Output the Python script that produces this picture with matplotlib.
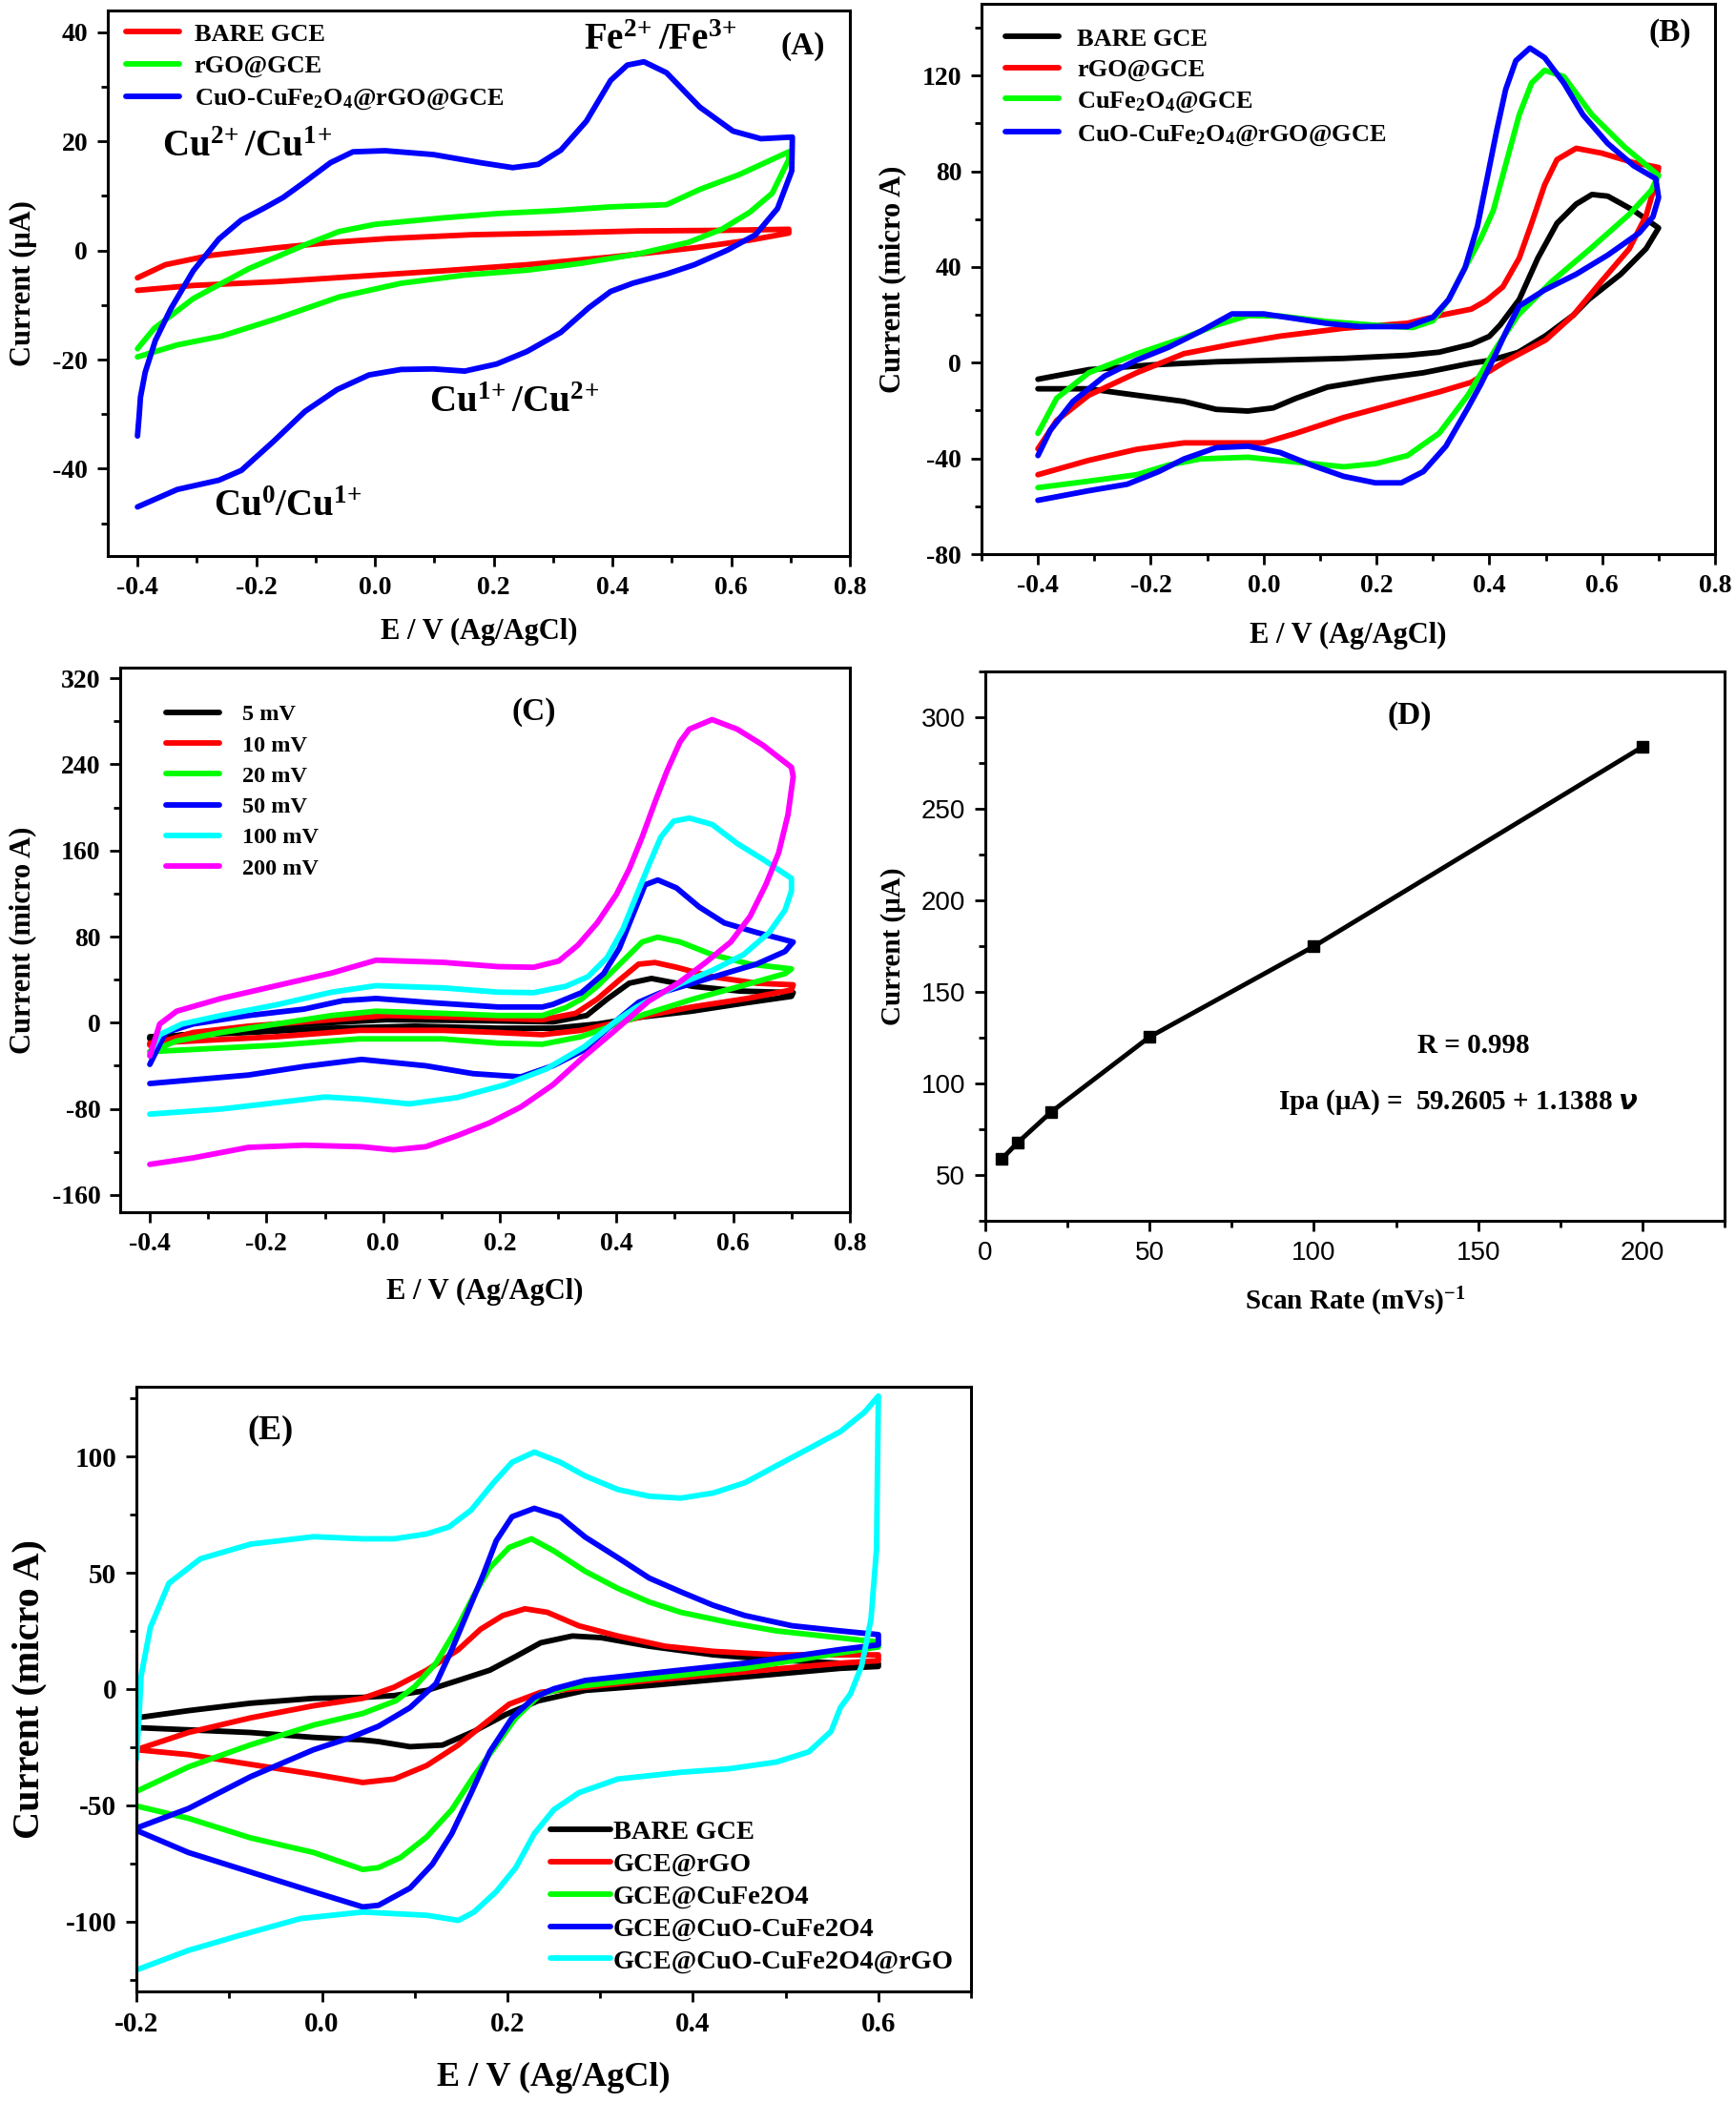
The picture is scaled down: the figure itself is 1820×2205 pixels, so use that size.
import matplotlib
matplotlib.use("Agg")
import matplotlib.pyplot as plt
from matplotlib.ticker import MultipleLocator, FormatStrFormatter
import numpy as np

plt.rcParams['font.family'] = ['Liberation Serif', 'DejaVu Serif']
plt.rcParams['font.weight'] = 'bold'
plt.rcParams['axes.labelweight'] = 'bold'
plt.rcParams['mathtext.default'] = 'regular'
plt.rcParams['axes.unicode_minus'] = False

# ---- panel A: CV curves (E in V, I in uA), forward scan then reverse scan
A_BARE = np.array([
    (-0.4, -5.0), (-0.353, -2.6), (-0.278, -0.9), (-0.166, 0.5), (-0.072, 1.5), (0.022, 2.2),
    (0.163, 2.9), (0.303, 3.2), (0.444, 3.6), (0.584, 3.7), (0.697, 3.9),
    (0.697, 3.2), (0.631, 1.9), (0.538, 0.5), (0.397, -1.2), (0.256, -2.6), (0.116, -3.7),
    (-0.025, -4.7), (-0.166, -5.7), (-0.306, -6.4), (-0.4, -7.3)])
A_RGO = np.array([
    (-0.4, -18.0), (-0.372, -14.3), (-0.306, -8.8), (-0.212, -3.3), (-0.119, 1.0), (-0.06, 3.5),
    (0.0, 4.8), (0.116, 6.0), (0.209, 6.8), (0.303, 7.3), (0.397, 8.0), (0.491, 8.4),
    (0.547, 11.2), (0.613, 13.9), (0.697, 18.1),
    (0.697, 16.7), (0.669, 10.5), (0.631, 7.0), (0.584, 3.9), (0.528, 1.5), (0.444, -0.6),
    (0.35, -2.3), (0.256, -3.6), (0.151, -4.5), (0.044, -6.0), (-0.06, -8.5), (-0.166, -12.5),
    (-0.259, -15.7), (-0.333, -17.3), (-0.4, -19.5)])
A_CUO = np.array([
    (-0.4, -34.0), (-0.397, -30.0), (-0.395, -26.9), (-0.387, -22.3), (-0.37, -16.5),
    (-0.344, -10.7), (-0.306, -3.7), (-0.263, 2.1), (-0.225, 5.6), (-0.188, 7.7), (-0.155, 9.7),
    (-0.118, 12.6), (-0.075, 16.1), (-0.037, 18.1), (0.017, 18.3), (0.098, 17.6), (0.178, 16.1),
    (0.232, 15.2), (0.275, 15.8), (0.313, 18.4), (0.356, 23.7), (0.397, 31.2), (0.425, 34.0),
    (0.453, 34.6), (0.491, 32.6), (0.547, 26.3), (0.603, 21.9), (0.65, 20.5), (0.703, 20.8),
    (0.702, 14.6), (0.678, 7.7), (0.641, 2.9), (0.594, 0.1), (0.538, -2.6), (0.491, -4.3),
    (0.434, -6.0), (0.397, -7.5), (0.36, -10.5), (0.313, -15.0), (0.256, -18.5), (0.205, -20.8),
    (0.151, -22.1), (0.098, -21.7), (0.044, -21.8), (-0.01, -22.8), (-0.064, -25.5),
    (-0.118, -29.5), (-0.171, -35.0), (-0.225, -40.3), (-0.263, -42.1), (-0.333, -43.8),
    (-0.4, -47.0)])
A_LABELS = ['BARE GCE', 'rGO@GCE', 'CuO-CuFe$_2$O$_4$@rGO@GCE']

# ---- panel B
B_BARE = np.array([
    (-0.4, -6.9), (-0.31, -2.9), (-0.197, -0.9), (-0.084, 0.4), (0.029, 1.1), (0.142, 1.8),
    (0.255, 3.1), (0.311, 4.4), (0.368, 7.7), (0.4, 11.0), (0.419, 15.7), (0.453, 26.4),
    (0.486, 43.7), (0.52, 58.3), (0.554, 66.3), (0.582, 70.3), (0.61, 69.6), (0.656, 63.6),
    (0.7, 56.3),
    (0.678, 47.7), (0.633, 37.0), (0.576, 26.4), (0.549, 19.9), (0.5, 11.3), (0.451, 4.3),
    (0.402, 1.0), (0.368, -0.2), (0.283, -4.2), (0.198, -6.9), (0.113, -10.2), (0.057, -14.9),
    (0.017, -18.9), (-0.028, -20.2), (-0.084, -19.5), (-0.141, -16.2), (-0.225, -13.6),
    (-0.31, -10.9), (-0.4, -10.9)])
B_RGO = np.array([
    (-0.4, -36.0), (-0.367, -24.2), (-0.31, -13.6), (-0.225, -4.2), (-0.141, 3.8), (-0.056, 7.7),
    (0.029, 11.1), (0.142, 14.4), (0.255, 16.5), (0.311, 19.7), (0.368, 22.4), (0.395, 26.0),
    (0.424, 31.7), (0.453, 43.7), (0.475, 58.3), (0.498, 74.3), (0.52, 84.9), (0.554, 89.6),
    (0.599, 87.6), (0.656, 83.6), (0.7, 81.6),
    (0.697, 77.1), (0.678, 61.5), (0.648, 47.6), (0.598, 33.8), (0.549, 19.9), (0.5, 9.5),
    (0.431, 0.9), (0.368, -8.2), (0.311, -12.2), (0.227, -17.5), (0.142, -22.9), (0.057, -29.5),
    (0.0, -33.5), (-0.141, -33.5), (-0.225, -36.2), (-0.31, -40.8), (-0.4, -46.8)])
B_CUFE = np.array([
    (-0.4, -29.5), (-0.367, -14.9), (-0.31, -4.2), (-0.225, 3.7), (-0.141, 10.4), (-0.084, 15.7),
    (-0.028, 19.7), (0.029, 19.5), (0.113, 17.2), (0.2, 15.6), (0.264, 14.7), (0.3, 17.5),
    (0.328, 26.4), (0.357, 39.7), (0.385, 52.0), (0.407, 63.6), (0.43, 83.6), (0.453, 103.6),
    (0.475, 116.9), (0.498, 122.2), (0.532, 119.6), (0.582, 103.6), (0.639, 90.3), (0.7, 78.3),
    (0.687, 72.0), (0.648, 62.0), (0.579, 47.6), (0.51, 33.8), (0.451, 19.9), (0.412, 6.1),
    (0.362, -13.6), (0.311, -29.5), (0.255, -38.8), (0.198, -42.2), (0.142, -43.5),
    (0.057, -41.5), (-0.028, -39.5), (-0.112, -40.2), (-0.169, -42.8), (-0.225, -46.8),
    (-0.31, -49.5), (-0.4, -52.2)])
B_CUO = np.array([
    (-0.4, -38.8), (-0.378, -28.2), (-0.338, -16.2), (-0.282, -5.6), (-0.225, 1.1),
    (-0.169, 6.4), (-0.112, 13.1), (-0.056, 20.4), (0.0, 20.4), (0.057, 18.4), (0.113, 16.4),
    (0.17, 15.1), (0.255, 15.1), (0.3, 19.0), (0.328, 26.4), (0.357, 39.7), (0.379, 57.0),
    (0.396, 76.9), (0.413, 96.9), (0.429, 114.2), (0.447, 126.2), (0.472, 131.5), (0.498, 127.5),
    (0.532, 116.9), (0.566, 103.6), (0.61, 91.6), (0.656, 82.3), (0.695, 76.9),
    (0.7, 69.0), (0.69, 61.0), (0.666, 54.3), (0.61, 45.0), (0.554, 37.0), (0.498, 30.4),
    (0.453, 23.7), (0.43, 13.1), (0.41, 3.0), (0.385, -9.0), (0.362, -18.9), (0.323, -34.9),
    (0.283, -45.5), (0.244, -50.2), (0.198, -50.2), (0.142, -47.5), (0.085, -42.8),
    (0.029, -37.5), (-0.028, -34.9), (-0.084, -35.5), (-0.141, -40.2), (-0.186, -45.5),
    (-0.242, -50.8), (-0.31, -53.5), (-0.4, -57.5)])
B_LABELS = ['BARE GCE', 'rGO@GCE', 'CuFe$_2$O$_4$@GCE', 'CuO-CuFe$_2$O$_4$@rGO@GCE']

# ---- panel C: scan rates
C_5 = np.array([
    (-0.4, -15.0), (-0.278, -7.1), (-0.136, -1.2), (0.007, 2.8), (0.149, 2.0), (0.292, 0.8),
    (0.349, 6.7), (0.384, 21.9), (0.422, 36.7), (0.46, 41.1), (0.531, 33.8), (0.612, 29.4),
    (0.703, 28.0),
    (0.7, 24.5), (0.624, 18.6), (0.529, 10.7), (0.434, 4.7), (0.368, -1.2), (0.292, -5.1),
    (0.197, -5.1), (0.054, -3.2), (-0.088, -5.1), (-0.231, -9.1), (-0.4, -13.0)])
C_10 = np.array([
    (-0.4, -20.9), (-0.326, -9.1), (-0.231, -3.2), (-0.088, 2.8), (0.007, 6.7), (0.149, 4.7),
    (0.273, 2.8), (0.33, 8.7), (0.367, 21.9), (0.405, 39.6), (0.438, 54.4), (0.466, 55.9),
    (0.503, 51.5), (0.564, 42.7), (0.64, 36.7), (0.703, 35.2),
    (0.7, 30.4), (0.624, 22.5), (0.529, 14.6), (0.453, 6.7), (0.406, 0.8), (0.339, -7.1),
    (0.273, -11.1), (0.197, -9.1), (0.102, -7.1), (-0.041, -7.1), (-0.183, -13.0), (-0.4, -19.0)])
C_20 = np.array([
    (-0.4, -26.9), (-0.354, -17.0), (-0.278, -9.1), (-0.183, -1.2), (-0.088, 6.7), (-0.012, 10.7),
    (0.102, 8.7), (0.197, 6.7), (0.273, 6.7), (0.313, 14.0), (0.34, 22.0), (0.367, 33.8),
    (0.411, 57.3), (0.444, 75.0), (0.471, 79.5), (0.509, 75.0), (0.564, 63.3), (0.629, 54.4),
    (0.7, 50.0),
    (0.689, 45.6), (0.612, 33.8), (0.531, 21.9), (0.449, 8.0), (0.387, -4.0), (0.339, -13.0),
    (0.273, -20.0), (0.197, -19.0), (0.102, -15.0), (-0.041, -15.0), (-0.183, -20.9),
    (-0.4, -26.9)])
C_50 = np.array([
    (-0.4, -38.7), (-0.373, -9.1), (-0.326, -1.2), (-0.231, 6.7), (-0.136, 12.6), (-0.069, 20.5),
    (-0.012, 22.5), (0.083, 18.6), (0.197, 14.6), (0.273, 14.6), (0.291, 17.0), (0.34, 27.9),
    (0.378, 45.6), (0.405, 69.2), (0.427, 98.7), (0.449, 128.1), (0.471, 132.6), (0.503, 125.2),
    (0.542, 107.5), (0.585, 92.7), (0.64, 83.9), (0.703, 75.0),
    (0.689, 66.2), (0.64, 54.4), (0.585, 45.6), (0.531, 36.7), (0.476, 27.9), (0.438, 19.0),
    (0.4, 2.0), (0.345, -25.2), (0.291, -40.0), (0.236, -50.3), (0.154, -47.3), (0.073, -40.0),
    (-0.037, -34.1), (-0.136, -40.7), (-0.231, -48.6), (-0.4, -56.5)])
C_100 = np.array([
    (-0.4, -28.8), (-0.383, -11.1), (-0.345, -1.2), (-0.278, 6.7), (-0.183, 16.6), (-0.088, 28.4),
    (-0.012, 34.4), (0.102, 32.4), (0.197, 28.4), (0.258, 27.9), (0.313, 33.8), (0.351, 42.7),
    (0.384, 60.4), (0.411, 86.9), (0.433, 116.4), (0.455, 145.8), (0.476, 172.4), (0.498, 187.2),
    (0.525, 190.1), (0.564, 184.2), (0.607, 166.5), (0.651, 151.8), (0.7, 134.1),
    (0.7, 122.3), (0.689, 104.6), (0.662, 83.9), (0.618, 63.3), (0.564, 48.5), (0.509, 36.0),
    (0.466, 24.0), (0.433, 14.0), (0.4, 2.0), (0.345, -22.3), (0.28, -42.9), (0.209, -57.7),
    (0.127, -69.5), (0.045, -75.4), (-0.037, -71.0), (-0.1, -69.0), (-0.183, -74.3),
    (-0.278, -80.2), (-0.4, -84.9)])
C_200 = np.array([
    (-0.4, -30.8), (-0.383, -1.2), (-0.354, 10.7), (-0.278, 22.5), (-0.183, 34.4), (-0.088, 46.2),
    (-0.012, 58.1), (0.102, 56.1), (0.197, 52.1), (0.258, 51.5), (0.301, 57.3), (0.334, 72.1),
    (0.367, 92.7), (0.4, 119.3), (0.422, 142.9), (0.444, 172.4), (0.466, 204.9), (0.487, 234.3),
    (0.509, 260.9), (0.525, 272.7), (0.564, 281.6), (0.607, 272.7), (0.651, 257.9), (0.7, 237.3),
    (0.703, 228.5), (0.694, 193.1), (0.678, 157.7), (0.656, 128.1), (0.629, 98.7), (0.596, 75.0),
    (0.553, 56.0), (0.509, 38.0), (0.455, 20.0), (0.4, -6.0), (0.345, -31.2), (0.291, -57.7),
    (0.236, -78.3), (0.182, -93.1), (0.127, -104.9), (0.073, -115.2), (0.018, -118.1),
    (-0.037, -115.2), (-0.136, -113.8), (-0.231, -115.8), (-0.326, -125.6), (-0.4, -131.6)])
C_LABELS = ['5 mV', '10 mV', '20 mV', '50 mV', '100 mV', '200 mV']

# ---- panel D: anodic peak current vs scan rate
D_RATE = [5, 10, 20, 50, 100, 200]
D_IPA = [58.8, 68.0, 84.4, 125.5, 175.0, 284.0]

# ---- panel E
E_BARE = np.array([
    (-0.2, -12.4), (-0.144, -9.3), (-0.077, -6.1), (-0.009, -4.0), (0.044, -3.6), (0.078, -2.8),
    (0.113, -0.6), (0.147, 3.7), (0.181, 8.1), (0.209, 14.0), (0.236, 19.9), (0.27, 22.8),
    (0.301, 22.1), (0.353, 18.4), (0.422, 14.7), (0.49, 12.5), (0.559, 11.1), (0.6, 11.0),
    (0.6, 9.7), (0.559, 8.9), (0.456, 5.2), (0.353, 1.5), (0.284, -0.6), (0.233, -5.1),
    (0.198, -11.0), (0.164, -18.2), (0.13, -24.1), (0.095, -24.8), (0.061, -22.6),
    (0.044, -21.9), (-0.009, -20.8), (-0.077, -18.7), (-0.2, -16.6)])
E_RGO = np.array([
    (-0.2, -26.1), (-0.144, -18.7), (-0.077, -12.4), (-0.009, -7.2), (0.044, -4.0), (0.078, 0.8),
    (0.113, 8.1), (0.147, 16.9), (0.171, 25.7), (0.195, 31.6), (0.219, 34.5), (0.243, 33.0),
    (0.277, 27.2), (0.319, 22.8), (0.37, 18.4), (0.422, 16.2), (0.49, 14.7), (0.6, 14.7),
    (0.6, 12.2), (0.559, 11.1), (0.456, 7.4), (0.353, 3.7), (0.284, 0.8), (0.236, -1.4),
    (0.202, -6.5), (0.174, -15.3), (0.147, -24.1), (0.113, -32.9), (0.078, -38.7),
    (0.044, -40.2), (-0.009, -36.6), (-0.077, -32.4), (-0.144, -28.2), (-0.2, -26.1)])
E_CUFE = np.array([
    (-0.2, -44.0), (-0.144, -33.5), (-0.077, -24.0), (-0.009, -15.5), (0.044, -10.5),
    (0.08, -5.0), (0.1, 1.0), (0.123, 11.1), (0.147, 27.2), (0.164, 40.4), (0.181, 52.1),
    (0.202, 60.9), (0.226, 64.6), (0.25, 59.4), (0.284, 50.6), (0.319, 43.3), (0.353, 37.4),
    (0.387, 33.0), (0.439, 28.6), (0.49, 25.0), (0.559, 22.0), (0.6, 20.2),
    (0.6, 18.1), (0.559, 15.5), (0.456, 8.9), (0.353, 4.5), (0.267, 0.8), (0.236, -2.1),
    (0.209, -12.4), (0.188, -24.1), (0.164, -37.3), (0.14, -51.9), (0.113, -63.6),
    (0.085, -72.4), (0.061, -76.8), (0.044, -77.6), (-0.009, -70.3), (-0.077, -64.0),
    (-0.144, -55.6), (-0.2, -50.3)])
E_CUO = np.array([
    (-0.2, -59.8), (-0.144, -51.4), (-0.077, -37.7), (-0.009, -26.1), (0.03, -21.0),
    (0.061, -16.0), (0.095, -8.0), (0.123, 2.3), (0.14, 16.9), (0.157, 33.0), (0.174, 49.2),
    (0.188, 63.8), (0.205, 74.1), (0.229, 77.7), (0.257, 74.1), (0.284, 65.3), (0.319, 56.5),
    (0.353, 47.7), (0.387, 41.8), (0.422, 36.0), (0.456, 31.6), (0.507, 27.2), (0.559, 25.0),
    (0.6, 23.4),
    (0.6, 19.0), (0.559, 17.0), (0.456, 11.1), (0.353, 6.7), (0.284, 3.7), (0.25, 0.1),
    (0.229, -3.6), (0.205, -12.4), (0.181, -27.0), (0.161, -44.6), (0.14, -62.2),
    (0.119, -75.4), (0.095, -85.6), (0.061, -93.0), (0.044, -93.7), (-0.009, -87.2),
    (-0.077, -78.7), (-0.144, -70.3), (-0.2, -60.8)])
E_CUO_RGO = np.array([
    (-0.2, -30.3), (-0.197, -10.0), (-0.195, 5.5), (-0.185, 26.5), (-0.165, 45.5),
    (-0.131, 56.0), (-0.077, 62.3), (-0.009, 65.5), (0.044, 64.6), (0.078, 64.6), (0.113, 66.7),
    (0.137, 69.7), (0.161, 77.0), (0.185, 88.7), (0.205, 97.5), (0.229, 101.9), (0.257, 97.5),
    (0.284, 91.6), (0.319, 85.8), (0.353, 82.9), (0.387, 82.1), (0.422, 84.3), (0.456, 88.7),
    (0.49, 96.0), (0.525, 103.4), (0.559, 110.7), (0.585, 119.0), (0.6, 126.0),
    (0.598, 60.0), (0.592, 30.0), (0.582, 10.0), (0.57, -2.0), (0.559, -8.0), (0.549, -18.2),
    (0.525, -27.0), (0.49, -31.4), (0.439, -34.3), (0.387, -35.8), (0.319, -38.7),
    (0.277, -44.6), (0.25, -51.9), (0.229, -62.2), (0.209, -76.8), (0.188, -87.1),
    (0.164, -95.9), (0.147, -99.5), (0.113, -97.3), (0.044, -95.9), (-0.023, -98.7),
    (-0.09, -106.1), (-0.144, -112.4), (-0.2, -120.8)])
E_LABELS = ['BARE GCE', 'GCE@rGO', 'GCE@CuFe2O4', 'GCE@CuO-CuFe2O4', 'GCE@CuO-CuFe2O4@rGO']

RED, GREEN, BLUE, CYAN, MAGENTA = '#ff0000', '#00ff00', '#0000ff', '#00ffff', '#ff00ff'
LW = 4.2


def style(ax, xmaj, xmin, ymaj, ymin, fs=20, xfmt='%.1f', yfmt='%d'):
    for s in ax.spines.values():
        s.set_linewidth(2.2)
    ax.xaxis.set_major_locator(MultipleLocator(xmaj))
    ax.xaxis.set_minor_locator(MultipleLocator(xmin))
    ax.yaxis.set_major_locator(MultipleLocator(ymaj))
    ax.yaxis.set_minor_locator(MultipleLocator(ymin))
    ax.xaxis.set_major_formatter(FormatStrFormatter(xfmt))
    ax.yaxis.set_major_formatter(FormatStrFormatter(yfmt))
    ax.tick_params(which='major', direction='out', length=8, width=2, labelsize=fs, pad=7)
    ax.tick_params(which='minor', direction='out', length=5, width=2)
    ax.tick_params(top=False, right=False, which='both')
    for lab in ax.get_xticklabels() + ax.get_yticklabels():
        lab.set_fontweight('bold')


def cv(ax, arr, color, label):
    ax.plot(arr[:, 0], arr[:, 1], color=color, lw=LW, label=label,
            solid_joinstyle='round', solid_capstyle='round')


fig = plt.figure(figsize=(18.2, 22.05), dpi=100)

# ---------------- (A)
ax = fig.add_axes([0.0621, 0.7356, 0.4275, 0.2594])
for arr, c, lab in zip([A_BARE, A_RGO, A_CUO], [RED, GREEN, BLUE], A_LABELS):
    cv(ax, arr, c, lab)
ax.set_xlim(-0.45, 0.8)
ax.set_ylim(-56, 44)
style(ax, 0.2, 0.1, 20, 10)
ax.set_xlabel('E / V (Ag/AgCl)', fontsize=22, labelpad=14)
ax.set_ylabel('Current (μA)', fontsize=22, labelpad=12)
ax.legend(loc='upper left', frameon=False, fontsize=19, handlelength=2.1, handletextpad=0.6,
          labelspacing=0.38, borderaxespad=0.1, bbox_to_anchor=(0.008, 1.0))
ax.text(0.48, 38.5, 'Fe$^{2\\!+}$/Fe$^{3\\!+}$', fontsize=28, ha='center', va='center')
ax.text(0.72, 37.5, '(A)', fontsize=24, ha='center', va='center')
ax.text(-0.215, 19.0, 'Cu$^{2\\!+}$/Cu$^{1\\!+}$', fontsize=28, ha='center', va='center')
ax.text(0.235, -28.0, 'Cu$^{1\\!+}$/Cu$^{2\\!+}$', fontsize=28, ha='center', va='center')
ax.text(-0.147, -47.0, 'Cu$^{0}$/Cu$^{1\\!+}$', fontsize=28, ha='center', va='center')

# ---------------- (B)
ax = fig.add_axes([0.5654, 0.7365, 0.4225, 0.2617])
for arr, c, lab in zip([B_BARE, B_RGO, B_CUFE, B_CUO], ['black', RED, GREEN, BLUE], B_LABELS):
    cv(ax, arr, c, lab)
ax.set_xlim(-0.5, 0.8)
ax.set_ylim(-80, 150)
style(ax, 0.2, 0.1, 40, 20)
ax.set_xlabel('E / V (Ag/AgCl)', fontsize=22, labelpad=18)
ax.set_ylabel('Current (micro A)', fontsize=22, labelpad=12)
ax.legend(loc='upper left', frameon=False, fontsize=19, handlelength=2.1, handletextpad=0.75,
          labelspacing=0.34, borderaxespad=0.55)
ax.text(0.72, 138, '(B)', fontsize=24, ha='center', va='center')

# ---------------- (C)
ax = fig.add_axes([0.0695, 0.4236, 0.4200, 0.2590])
for arr, c, lab in zip([C_5, C_10, C_20, C_50, C_100, C_200],
                       ['black', RED, GREEN, BLUE, CYAN, MAGENTA], C_LABELS):
    cv(ax, arr, c, lab)
ax.set_xlim(-0.45, 0.8)
ax.set_ylim(-176, 330)
style(ax, 0.2, 0.1, 80, 40)
ax.set_xlabel('E / V (Ag/AgCl)', fontsize=22, labelpad=17)
ax.set_ylabel('Current (micro A)', fontsize=22, labelpad=12)
ax.legend(loc='upper left', frameon=False, fontsize=17.5, handlelength=2.3, handletextpad=1.0,
          labelspacing=0.42, borderaxespad=0.6, bbox_to_anchor=(0.03, 0.975))
ax.text(0.258, 289, '(C)', fontsize=24, ha='center', va='center')

# ---------------- (D)
ax = fig.add_axes([0.5676, 0.4195, 0.4258, 0.2610])
ax.plot(D_RATE, D_IPA, color='black', lw=3.5, marker='s', ms=8)
ax.set_xlim(0, 225)
ax.set_ylim(25, 325)
style(ax, 50, 25, 50, 25, xfmt='%d')
for lab in ax.get_xticklabels() + ax.get_yticklabels():
    lab.set_family(['Liberation Sans', 'DejaVu Sans'])
    lab.set_fontweight('normal')
ax.set_xlabel('Scan Rate (mVs)$^{-1}$', fontsize=21, labelpad=15)
ax.set_ylabel('Current (μA)', fontsize=21, labelpad=11)
ax.text(129, 301, '(D)', fontsize=24, ha='center', va='center')
ax.text(148.5, 120.5, 'R = 0.998', fontsize=21, ha='center', va='center')
ax.text(144, 90, 'Ipa (μA) =  59.2605 + 1.1388 $\\it{ν}$', fontsize=21, ha='center', va='center')

# ---------------- (E)
ax = fig.add_axes([0.0786, 0.0531, 0.4808, 0.2875])
for arr, c, lab in zip([E_BARE, E_RGO, E_CUFE, E_CUO, E_CUO_RGO],
                       ['black', RED, GREEN, BLUE, CYAN], E_LABELS):
    cv(ax, arr, c, lab)
ax.set_xlim(-0.2, 0.7)
ax.set_ylim(-130, 130)
style(ax, 0.2, 0.1, 50, 25, fs=21)
ax.set_xticks([-0.2, 0.0, 0.2, 0.4, 0.6])
ax.set_xlabel('E / V (Ag/AgCl)', fontsize=26, labelpad=19)
ax.set_ylabel('Current (micro A)', fontsize=29, labelpad=14)
ax.legend(loc='lower right', frameon=False, fontsize=20.5, handlelength=2.2, handletextpad=0.1,
          labelspacing=0.28, borderaxespad=0.25, bbox_to_anchor=(1.0, 0.0))
ax.text(-0.056, 111, '(E)', fontsize=26, ha='center', va='center')

fig.savefig('out.png', dpi=100)
